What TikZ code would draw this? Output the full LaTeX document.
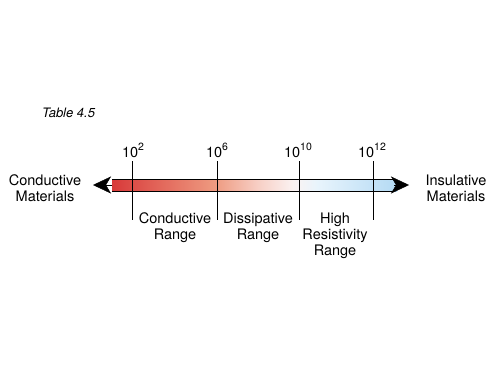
\documentclass[tikz,border=0pt]{standalone}
\usepackage{fontspec}
\setmainfont{TeX Gyre Heros}
\usetikzlibrary{arrows.meta}

\definecolor{condred}{HTML}{D83A3A}
\definecolor{condsalmon}{HTML}{EE9A80}
\definecolor{disspink}{HTML}{F7CEC4}
\definecolor{nearwhite}{HTML}{FBF2F2}
\definecolor{palesky}{HTML}{E8F4FC}
\definecolor{insublue}{HTML}{B4DAF4}

\pgfdeclarehorizontalshading{resistshade}{100bp}{color(0bp)=(condred); color(25bp)=(condred);
  color(43bp)=(condsalmon); color(50.5bp)=(disspink); color(56.8bp)=(nearwhite);
  color(61bp)=(palesky); color(75bp)=(insublue); color(100bp)=(insublue)}

\newcommand{\pw}[1]{10\raisebox{0.45em}{\fontsize{10.5}{10}\selectfont #1}}

\tikzset{
  lbl/.style = {font=\fontsize{14.5}{16}\selectfont, align=center, inner sep=0pt},
  tick/.style = {thin, black},
  head/.style = {-{Stealth[length=18pt, width=17pt, inset=5pt]}}
}

\begin{document}
\begin{tikzpicture}[x=1pt, y=-1pt]
  \useasboundingbox (0,0) rectangle (500,375);

  \node[anchor=west, inner sep=0pt, font=\fontsize{13}{14}\selectfont\itshape] (tab) at (42,113) {Table 4.5};

  % the bar
  \coordinate (barL) at (112,185);
  \coordinate (barR) at (394,185);
  \coordinate (tipL) at (93,185);
  \coordinate (tipR) at (409,185);
  \shade[shading=resistshade] (112,179) rectangle (397,191);
  \draw[thin] (112,179) -- (394,179);
  \draw[thin] (112,191) -- (394,191);
  \draw[head] (barL) -- (tipL);
  \draw[head] (barR) -- (tipR);

  % ticks
  \foreach \x/\n in {132/a, 217/b, 299/c, 373/d} {
    \coordinate (t\n) at (\x,161);
    \coordinate (b\n) at (\x,220);
    \draw[tick] (t\n) -- (b\n);
  }

  \node[lbl, anchor=base] (pa) at (133,157) {\pw{2}};
  \node[lbl, anchor=base] (pb) at (217,157) {\pw{6}};
  \node[lbl, anchor=base] (pc) at (298,157) {\pw{10}};
  \node[lbl, anchor=base] (pd) at (372,157) {\pw{12}};

  \node[lbl] (cm) at (45,188) {Conductive\\Materials};
  \node[lbl] (im) at (456,188) {Insulative\\Materials};

  \node[lbl] (cr) at (175,228) {Conductive\\Range};
  \node[lbl] (dr) at (258,228) {Dissipative\\Range};
  \node[lbl] (hr) at (335,236) {High\\Resistivity\\Range};
\end{tikzpicture}
\end{document}
